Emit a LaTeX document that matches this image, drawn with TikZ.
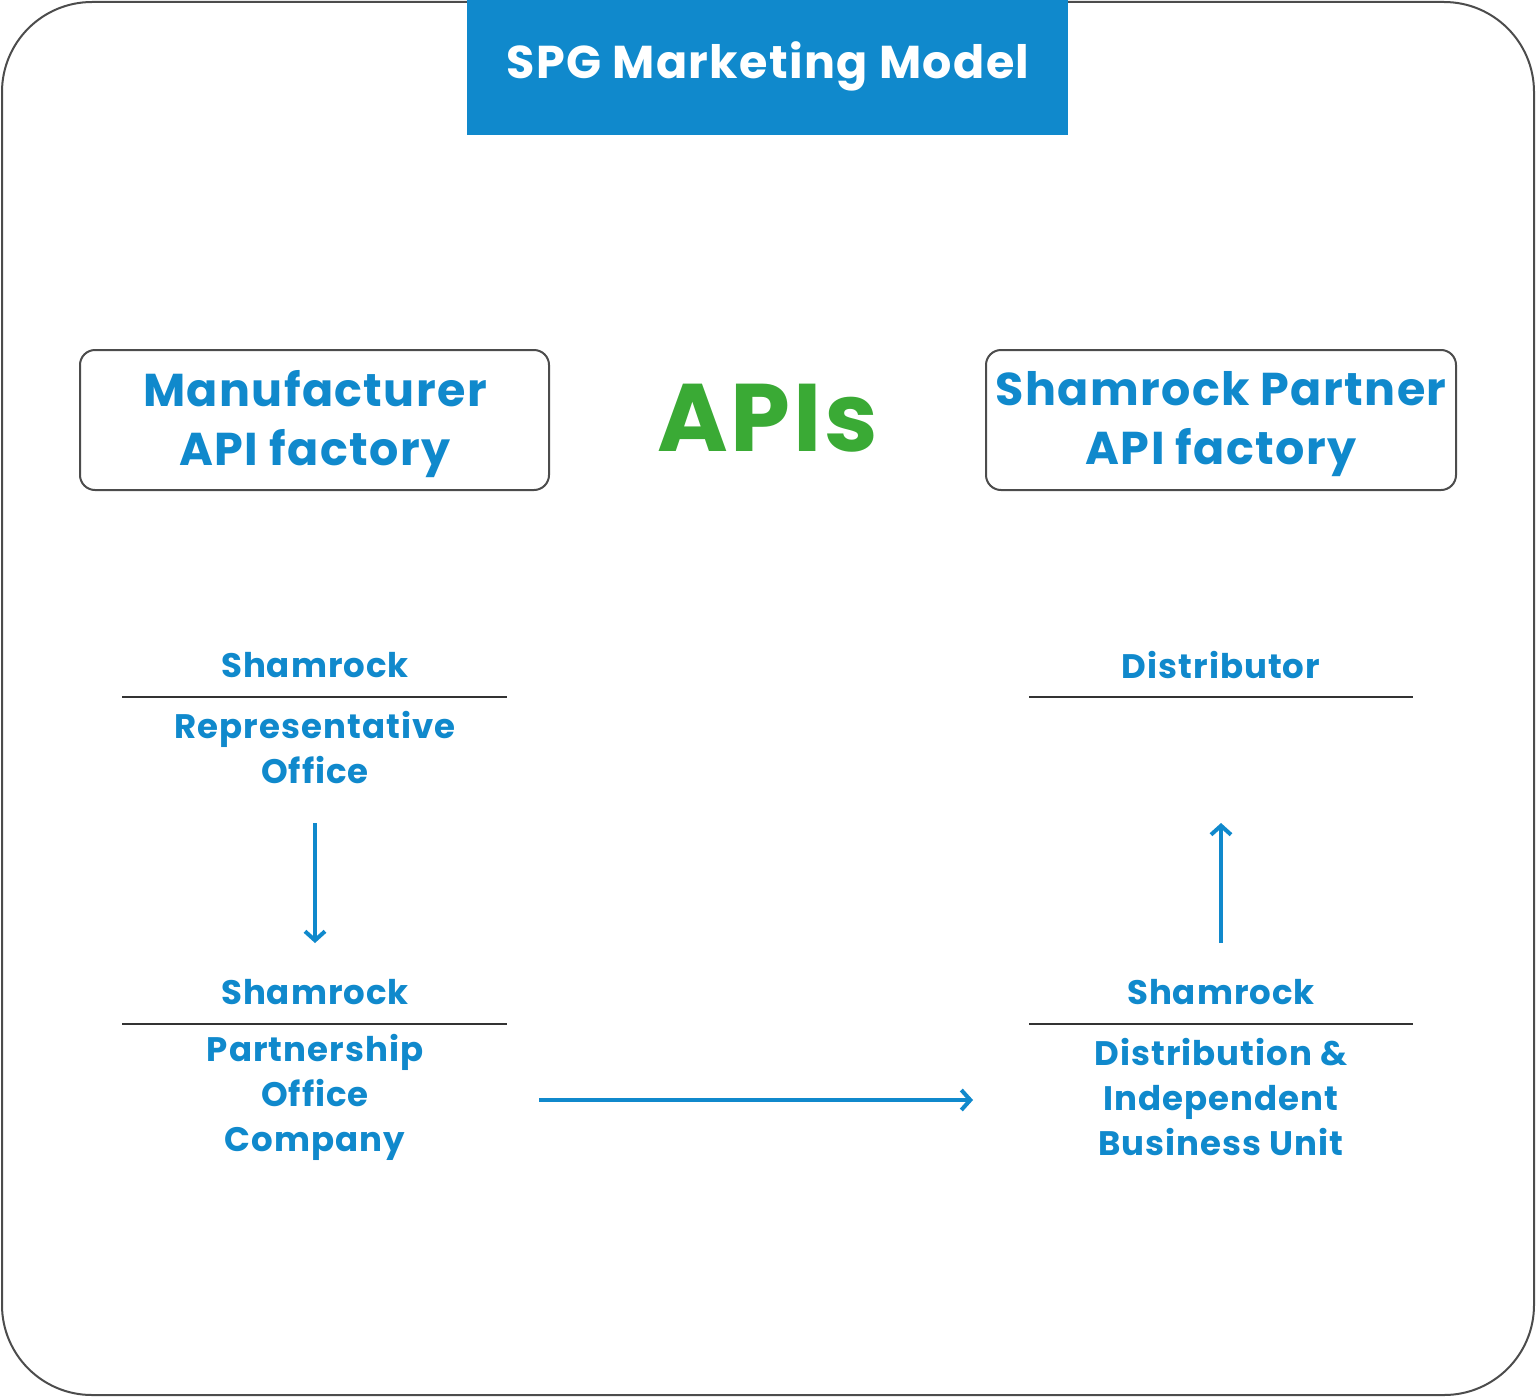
\documentclass[tikz,border=0pt]{standalone}
\usepackage{fontspec}
\setmainfont{Poppins}[LetterSpace=3]
\usetikzlibrary{arrows.meta}
\definecolor{bl}{HTML}{1089CC}
\definecolor{gr}{HTML}{3AAA35}
\begin{document}
\begin{tikzpicture}[x=1pt,y=-1pt,
  txt/.style={text=bl,font=\fontsize{34}{45}\selectfont\bfseries,align=center},
  big/.style={text=bl,font=\fontsize{46}{59}\selectfont\bfseries,align=center},
  rule/.style={draw=black!80,line width=2pt},
  arr/.style={draw=bl,line width=4.5pt,-{Straight Barb[length=9pt,width=20pt,line width=4pt]}}]
\useasboundingbox (0,0) rectangle (1536,1397);
\draw[draw=black!70,line width=2pt,rounded corners=90pt] (2,2) rectangle (1534,1395);
\fill[bl] (467,0) rectangle (1068,135);
\node[text=white,font=\fontsize{46}{50}\selectfont\bfseries] (t) at (768,66) {SPG Marketing Model};
\draw[draw=black!70,line width=2pt,rounded corners=15pt] (80,350) rectangle (549,490);
\draw[draw=black!70,line width=2pt,rounded corners=15pt] (986,350) rectangle (1456,490);
\node[big] (m) at (315,424) {Manufacturer\\API factory};
\node[big] (p) at (1221,424) {Shamrock Partner\\API factory};
\node[text=gr,font=\fontsize{96}{100}\selectfont\bfseries] (apis) at (768,418) {APIs};
% left
\node[txt] (s1) at (315,665) {Shamrock};
\draw[rule] (122,697) -- (507,697);
\node[txt] (ro) at (315,748) {Representative\\Office};
\coordinate (a1) at (315,823); \coordinate (a2) at (315,943);
\draw[arr] (a1) -- (a2);
\node[txt] (s2) at (315,992) {Shamrock};
\draw[rule] (122,1024) -- (507,1024);
\node[txt] (po) at (315,1097) {Partnership\\Office\\Company};
% right
\node[txt] (d) at (1221,665) {Distributor};
\draw[rule] (1029,697) -- (1413,697);
\coordinate (b1) at (1221,943); \coordinate (b2) at (1221,823);
\draw[arr] (b1) -- (b2);
\node[txt] (s3) at (1221,992) {Shamrock};
\draw[rule] (1029,1024) -- (1413,1024);
\node[txt] (db) at (1221,1097) {Distribution \&\\Independent\\Business Unit};
\coordinate (c1) at (539,1100); \coordinate (c2) at (973,1100);
\draw[arr] (c1) -- (c2);
\end{tikzpicture}
\end{document}
